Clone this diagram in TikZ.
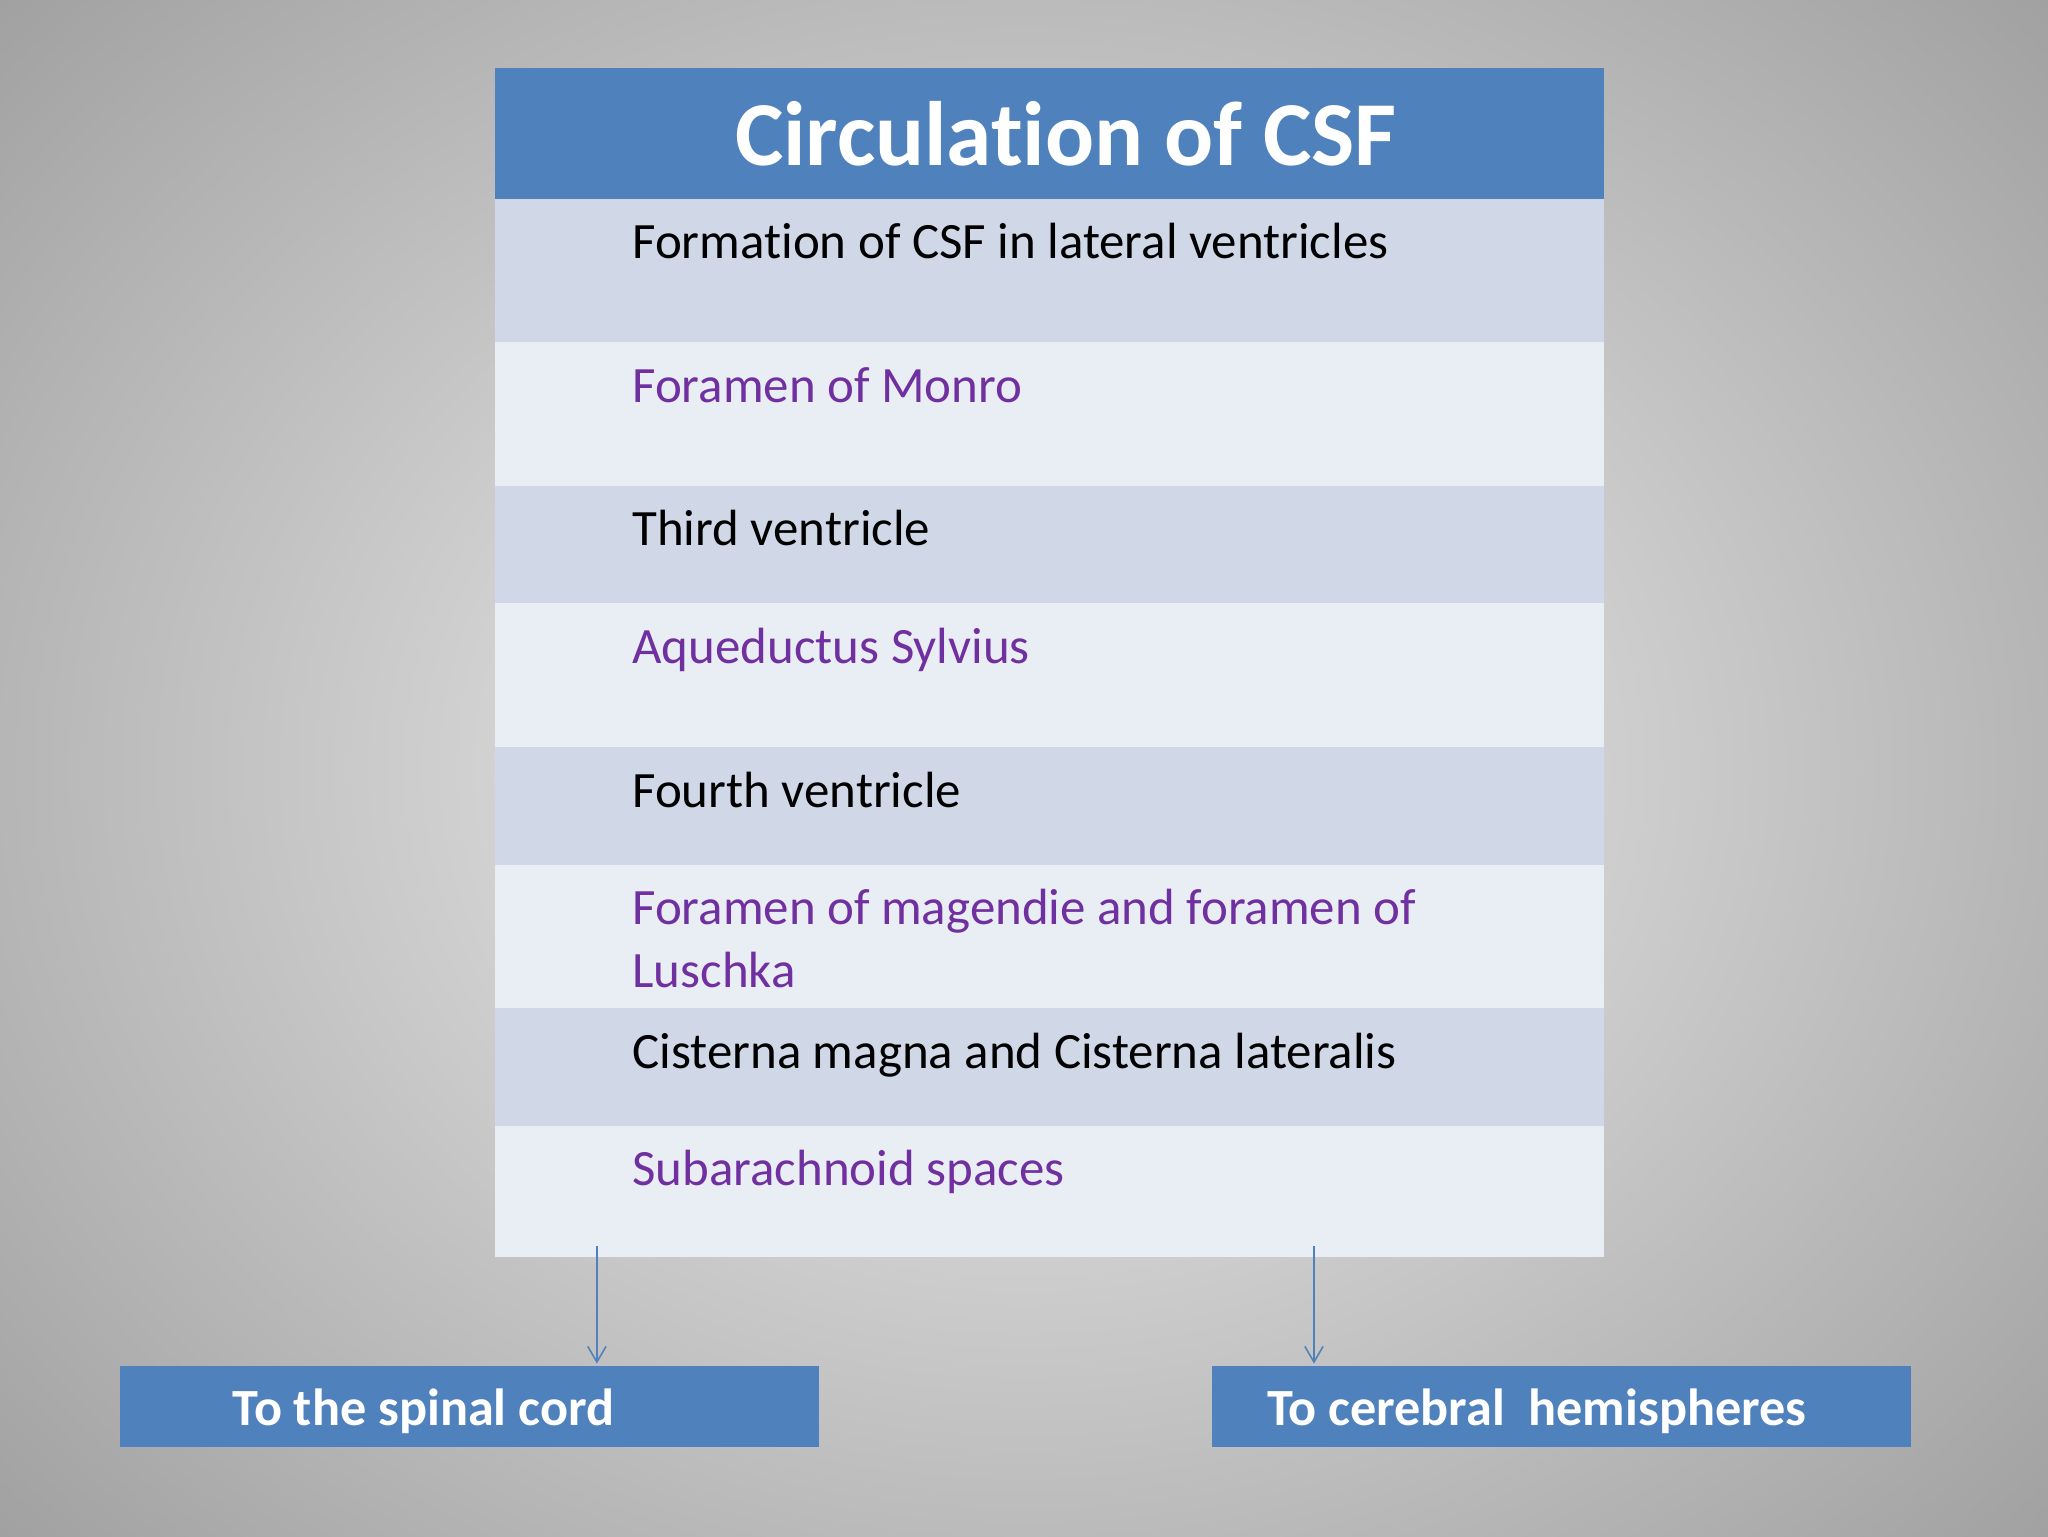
\documentclass[tikz,border=0pt]{standalone}
\usepackage{fontspec}
\setmainfont[Ligatures=NoCommon]{Carlito}
\usetikzlibrary{arrows.meta}
\definecolor{hdr}{HTML}{4F81BD}
\definecolor{rowd}{HTML}{D0D8E8}
\definecolor{rowl}{HTML}{E9EDF4}
\definecolor{purp}{HTML}{7030A0}
\tikzset{
  rowtxt/.style={anchor=base west,inner sep=0pt,font=\fontsize{39}{48}\selectfont,align=left},
  btxt/.style={anchor=base west,inner sep=0pt,font=\bfseries\fontsize{40}{44}\selectfont,text=white},
  arr/.style={draw=hdr,line width=1.2pt,-{Straight Barb[length=12pt,width=14pt,line width=1.2pt]}}
}
\begin{document}
\begin{tikzpicture}[x=1pt,y=-1pt]
\useasboundingbox (0,0) rectangle (1568,1176);
\shade[inner color=gray!12,outer color=gray!75] (-300,-300) rectangle (1868,1476);
\fill[hdr] (379,52) rectangle (1228,152);
\node[font=\bfseries\fontsize{70}{76}\selectfont,text=white,anchor=base,inner sep=0pt] (title) at (816,127) {Circulation of CSF};
\fill[rowd] (379,152) rectangle (1228,262);
\fill[rowl] (379,262) rectangle (1228,372);
\fill[rowd] (379,372) rectangle (1228,462);
\fill[rowl] (379,462) rectangle (1228,572);
\fill[rowd] (379,572) rectangle (1228,662);
\fill[rowl] (379,662) rectangle (1228,772);
\fill[rowd] (379,772) rectangle (1228,862);
\fill[rowl] (379,862) rectangle (1228,962);
\node[rowtxt] (r1) at (484,198) {Formation of CSF in lateral ventricles};
\node[rowtxt,text=purp] (r2) at (484,308) {Foramen of Monro};
\node[rowtxt] (r3) at (484,418) {Third ventricle};
\node[rowtxt,text=purp] (r4) at (484,508) {Aqueductus Sylvius};
\node[rowtxt] (r5) at (484,618) {Fourth ventricle};
\node[rowtxt,text=purp] (r6) at (484,756) {Foramen of magendie and foramen of\\Luschka};
\node[rowtxt] (r7) at (484,818) {Cisterna magna and Cisterna lateralis};
\node[rowtxt,text=purp] (r8) at (484,908) {Subarachnoid spaces};
\fill[hdr] (92,1046) rectangle (627,1108);
\fill[hdr] (928,1046) rectangle (1463,1108);
\node[btxt] (b1) at (178,1091) {To the spinal cord};
\node[btxt] (b2) at (970,1091) {To cerebral\ \ hemispheres};
\coordinate (s1) at (457,954);
\coordinate (e1) at (457,1044);
\coordinate (s2) at (1006,954);
\coordinate (e2) at (1006,1044);
\draw[arr] (s1) -- (e1);
\draw[arr] (s2) -- (e2);
\end{tikzpicture}
\end{document}
